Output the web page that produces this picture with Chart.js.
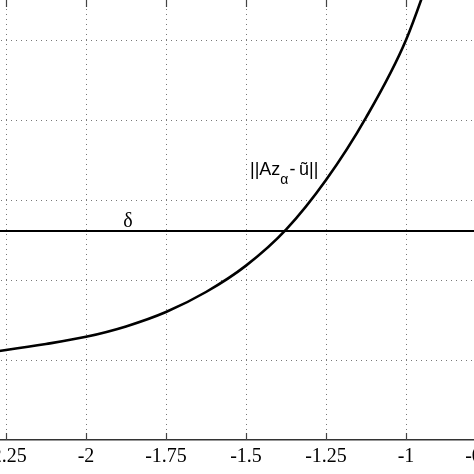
<!DOCTYPE html>
<html>
<head>
<meta charset="utf-8">
<script src="https://cdn.jsdelivr.net/npm/chart.js@4.4.0/dist/chart.umd.min.js"></script>
<style>
  html, body { margin: 0; padding: 0; background: #fff; }
  #view { position: relative; width: 474px; height: 474px; overflow: hidden; }
  #plot { position: absolute; left: -100px; top: -20px; }
</style>
</head>
<body>
<div id="view">
  <canvas id="plot" width="800" height="540" style="width:800px;height:540px"></canvas>
</div>
<script>
"use strict";
// curve
const alphaLog = [-2.375, -2.25, -2.125, -2.0, -1.875, -1.75, -1.625, -1.5, -1.375, -1.25, -1.125, -1.0, -0.875];
const residual = [1.06, 1.125, 1.2, 1.29, 1.42, 1.6, 1.85, 2.18, 2.63, 3.25, 4.03, 5.0, 6.4];
// discrepancy level
const deltaX = [-2.5, -0.5];
const deltaY = [2.6125, 2.6125];
// ticks
const xTicks = [-2.5, -2.25, -2, -1.75, -1.5, -1.25, -1, -0.75, -0.5];
const yTicks = [1, 2, 3, 4, 5];
// text labels in data coordinates
const deltaLabel = { x: -1.869, y: 2.6625 };
const normLabel = { x: -1.4875, y: 3.3125 };

function toPoints(xs, ys) {
    return xs.map((x, i) => ({ x: x, y: ys[i] }));
}

const tickMarks = {
    id: 'tickMarks',
    afterDraw(chart) {
        const ctx = chart.ctx;
        const area = chart.chartArea;
        const xScale = chart.scales.x;
        ctx.save();
        ctx.strokeStyle = '#444';
        ctx.lineWidth = 1.2;
        xTicks.forEach((v) => {
            const px = Math.round(xScale.getPixelForValue(v)) + 0.5;
            ctx.beginPath();
            ctx.moveTo(px, area.bottom);
            ctx.lineTo(px, area.bottom - 7);
            ctx.moveTo(px, area.top);
            ctx.lineTo(px, area.top + 8);
            ctx.stroke();
        });
        ctx.restore();
    }
};

const textLabels = {
    id: 'textLabels',
    afterDatasetsDraw(chart) {
        const ctx = chart.ctx;
        const xScale = chart.scales.x;
        const yScale = chart.scales.y;
        ctx.save();
        ctx.fillStyle = '#000';
        ctx.textBaseline = 'alphabetic';

        ctx.font = '20px "Liberation Serif"';
        ctx.textAlign = 'center';
        ctx.fillText('δ', xScale.getPixelForValue(deltaLabel.x), yScale.getPixelForValue(deltaLabel.y));

        ctx.textAlign = 'left';
        let px = xScale.getPixelForValue(normLabel.x);
        const py = yScale.getPixelForValue(normLabel.y);
        ctx.font = '18px "Liberation Sans"';
        ctx.fillText('||Az', px, py);
        px += ctx.measureText('||Az').width;
        ctx.font = '14px "Liberation Sans"';
        ctx.fillText('α', px, py + 9);
        px += ctx.measureText('α').width + 1;
        ctx.font = '18px "Liberation Sans"';
        ctx.fillText('-\u2009ũ||', px, py);
        ctx.restore();
    }
};

const context = document.getElementById('plot');
const plot = new Chart(context, {
    type: 'line',
    data: {
        datasets: [
            {
                data: toPoints(alphaLog, residual),
                borderColor: '#000',
                borderWidth: 2.6,
                pointRadius: 0,
                cubicInterpolationMode: 'monotone',
            },
            {
                data: toPoints(deltaX, deltaY),
                borderColor: '#000',
                borderWidth: 2.2,
                pointRadius: 0,
            },
        ],
    },
    options: {
        responsive: false,
        animation: false,
        devicePixelRatio: 1,
        layout: { padding: { left: 26, right: 134, top: 19, bottom: 40 } },
        plugins: { legend: { display: false }, tooltip: { enabled: false } },
        scales: {
            x: {
                type: 'linear',
                min: -2.5,
                max: -0.5,
                afterBuildTicks: (scale) => { scale.ticks = xTicks.map(v => ({ value: v })); },
                afterFit: (scale) => { scale.height = 40; },
                grid: { color: '#7a7a7a', lineWidth: 1, drawTicks: false },
                border: { display: true, color: '#333', width: 1.4, dash: [1, 4] },
                ticks: {
                    padding: 5,
                    color: '#000',
                    font: { family: '"Liberation Serif"', size: 20 },
                    callback: (v) => String(v),
                },
            },
            y: {
                type: 'linear',
                min: 0,
                max: 5.5125,
                afterBuildTicks: (scale) => { scale.ticks = yTicks.map(v => ({ value: v })); },
                afterFit: (scale) => { scale.width = 0; },
                grid: { color: '#7a7a7a', lineWidth: 1, drawTicks: false },
                border: { display: false, dash: [1, 4] },
                ticks: { display: false },
            },
        },
    },
    plugins: [tickMarks, textLabels],
});
</script>
</body>
</html>
